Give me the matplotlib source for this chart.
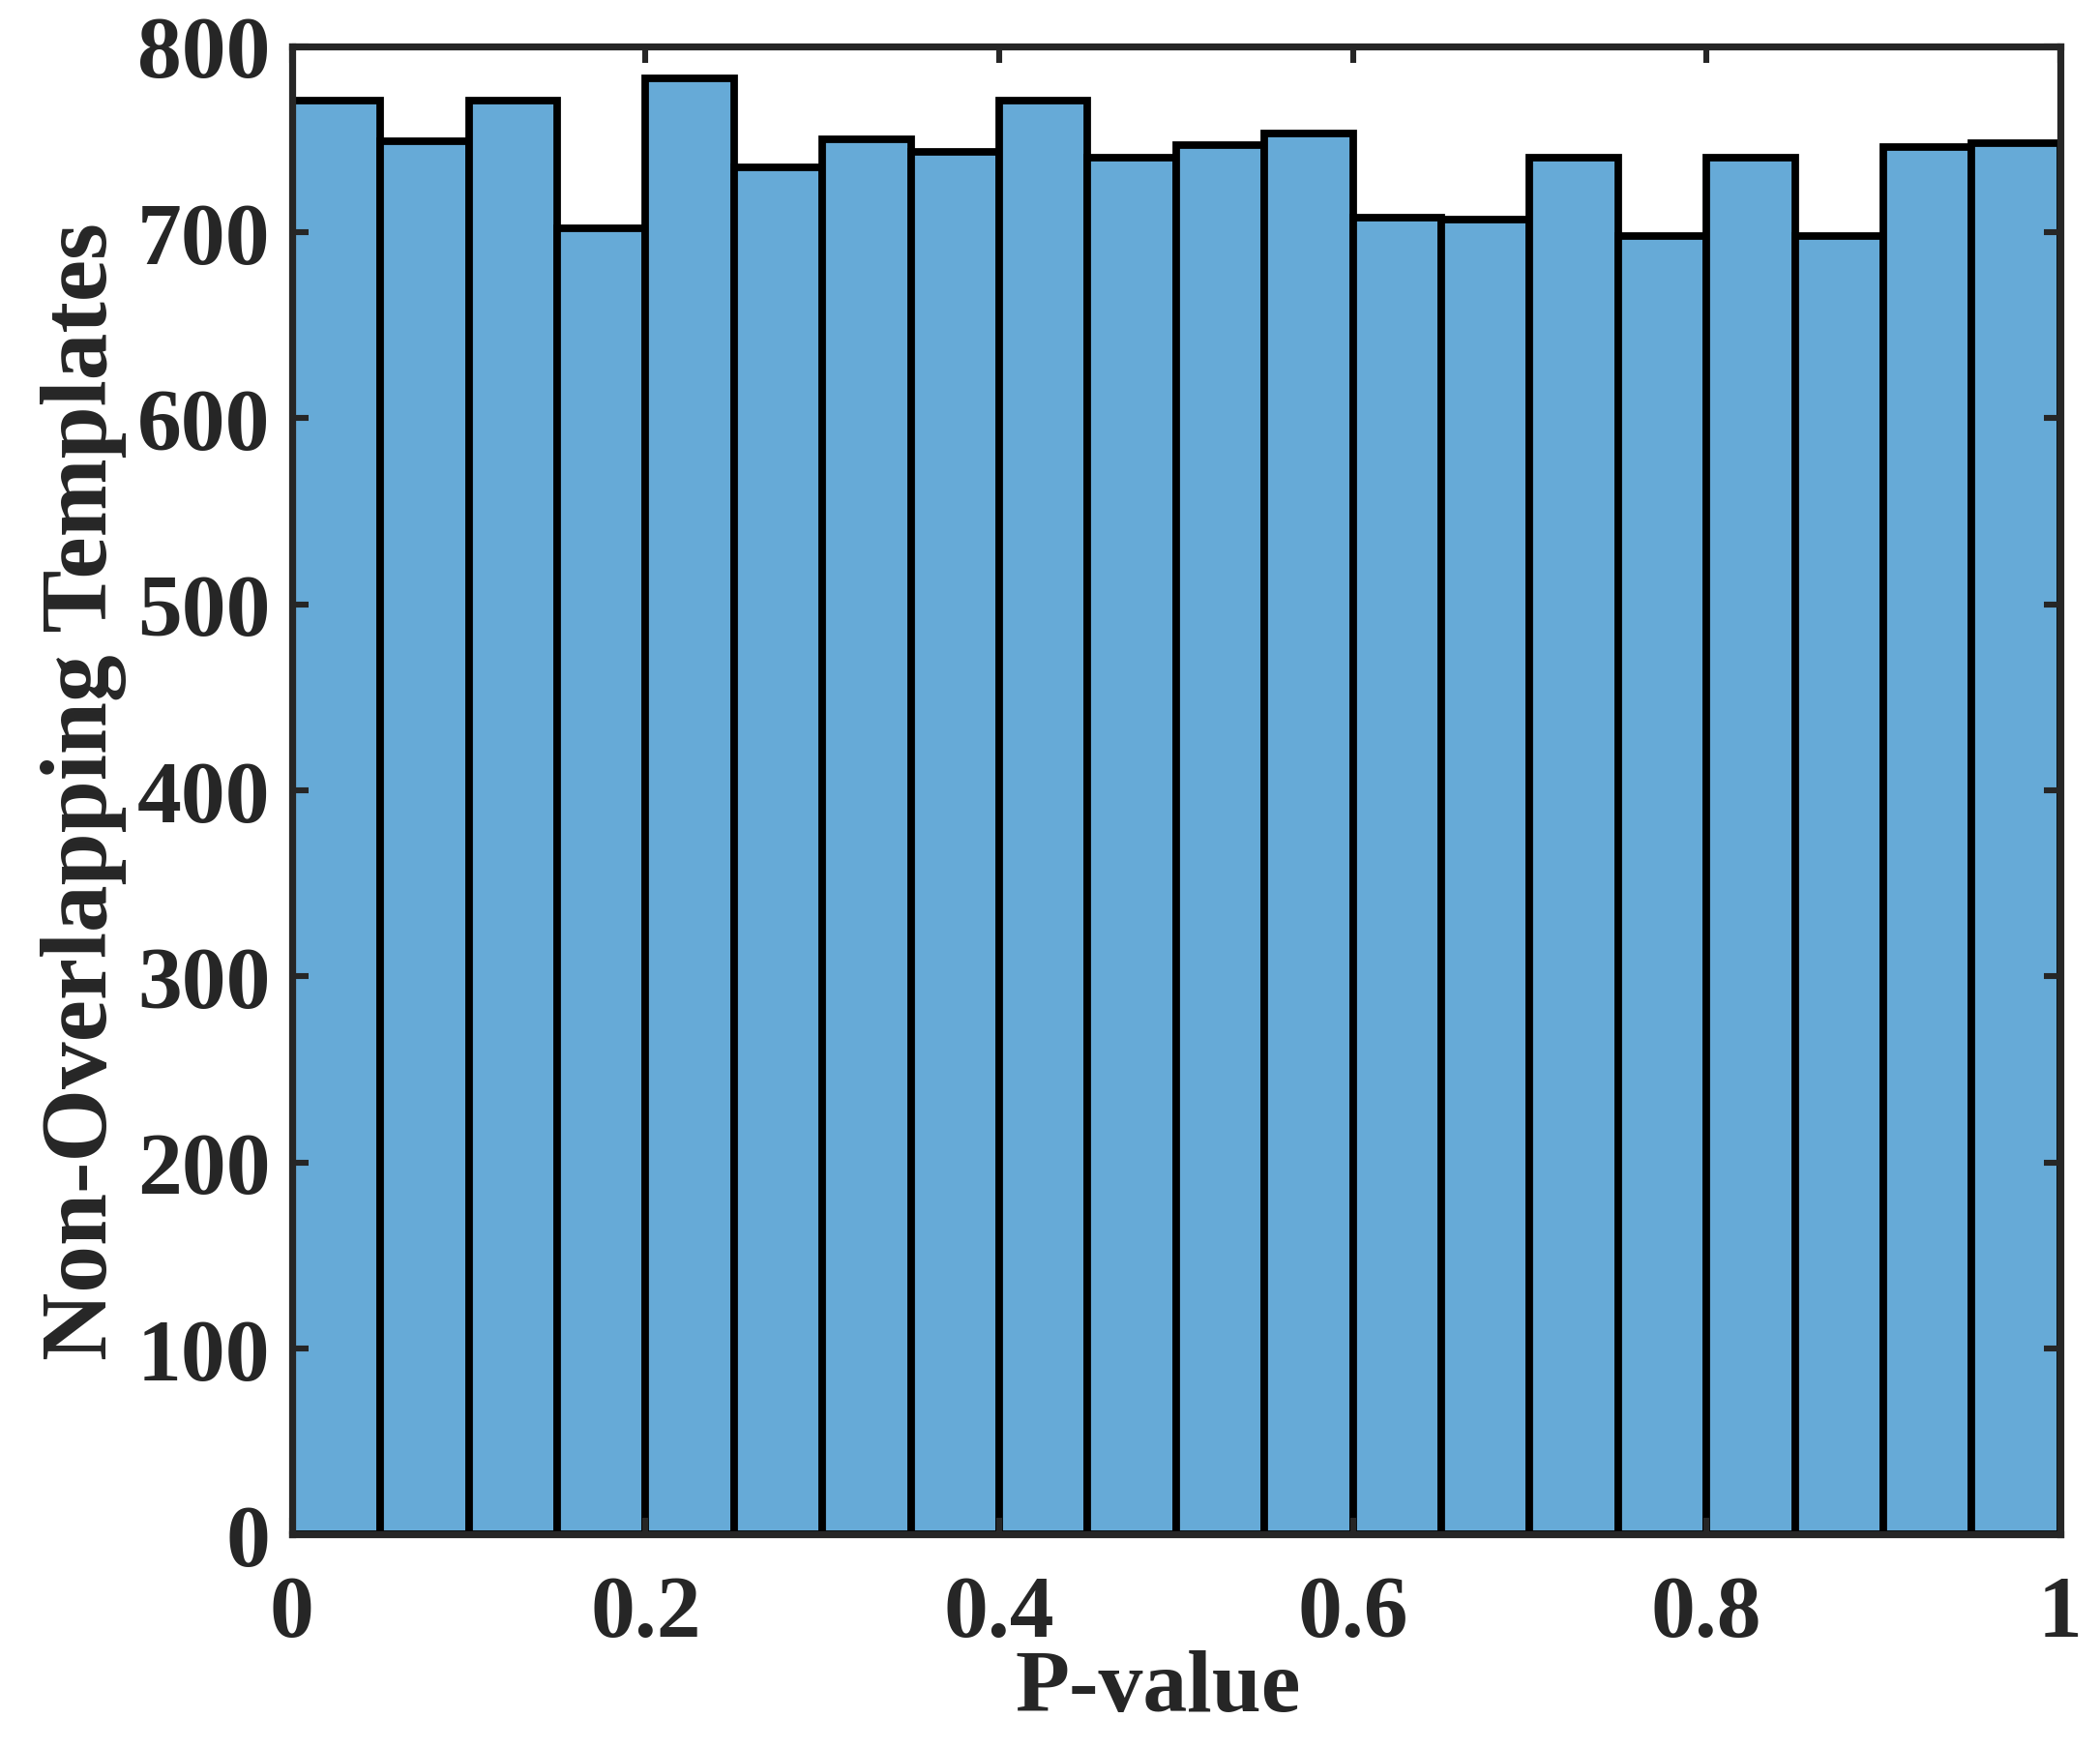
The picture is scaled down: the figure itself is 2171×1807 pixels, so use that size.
import numpy as np
import matplotlib
matplotlib.use('Agg')
import matplotlib.pyplot as plt

# histogram of P-values (20 bins over [0, 1])
bin_edges = np.linspace(0, 1, 21)
counts = [771, 749, 771, 702, 783, 735, 750, 743, 771, 740,
          747, 753, 708, 707, 740, 698, 740, 698, 746, 748]
x_ticks = [0, 0.2, 0.4, 0.6, 0.8, 1]
x_tick_labels = ['0', '0.2', '0.4', '0.6', '0.8', '1']
y_ticks = [0, 100, 200, 300, 400, 500, 600, 700, 800]

plt.rcParams['font.family'] = ['Liberation Serif', 'DejaVu Serif']
plt.rcParams['font.weight'] = 'bold'

fig = plt.figure(figsize=(10.855, 9.04), dpi=200)
ax = fig.add_axes([0.139, 0.122, 0.842, 0.851])

ax.bar(bin_edges[:-1], counts, width=np.diff(bin_edges), align='edge',
       color='#66AAD7', edgecolor='black', linewidth=2.8)

ax.set_xlim(0, 1)
ax.set_ylim(0, 800)
ax.set_xticks(x_ticks)
ax.set_xticklabels(x_tick_labels)
ax.set_yticks(y_ticks)

for s in ax.spines.values():
    s.set_linewidth(2.6)
    s.set_color('#262626')
    s.set_zorder(5)

ax.tick_params(axis='both', direction='in', length=6, width=2.2,
               colors='#262626', labelsize=33, top=True, right=True)
ax.tick_params(axis='x', pad=15)
ax.tick_params(axis='y', pad=8)
for lab in ax.get_xticklabels() + ax.get_yticklabels():
    lab.set_fontweight('bold')

ax.set_xlabel('P-value', fontsize=33, fontweight='bold', color='#262626', labelpad=-2)
ax.xaxis.label.set_x(0.49)
ax.set_ylabel('Non-Overlapping Templates', fontsize=35, fontweight='bold',
              color='#262626', labelpad=4)

fig.savefig('out.png', dpi=200)
